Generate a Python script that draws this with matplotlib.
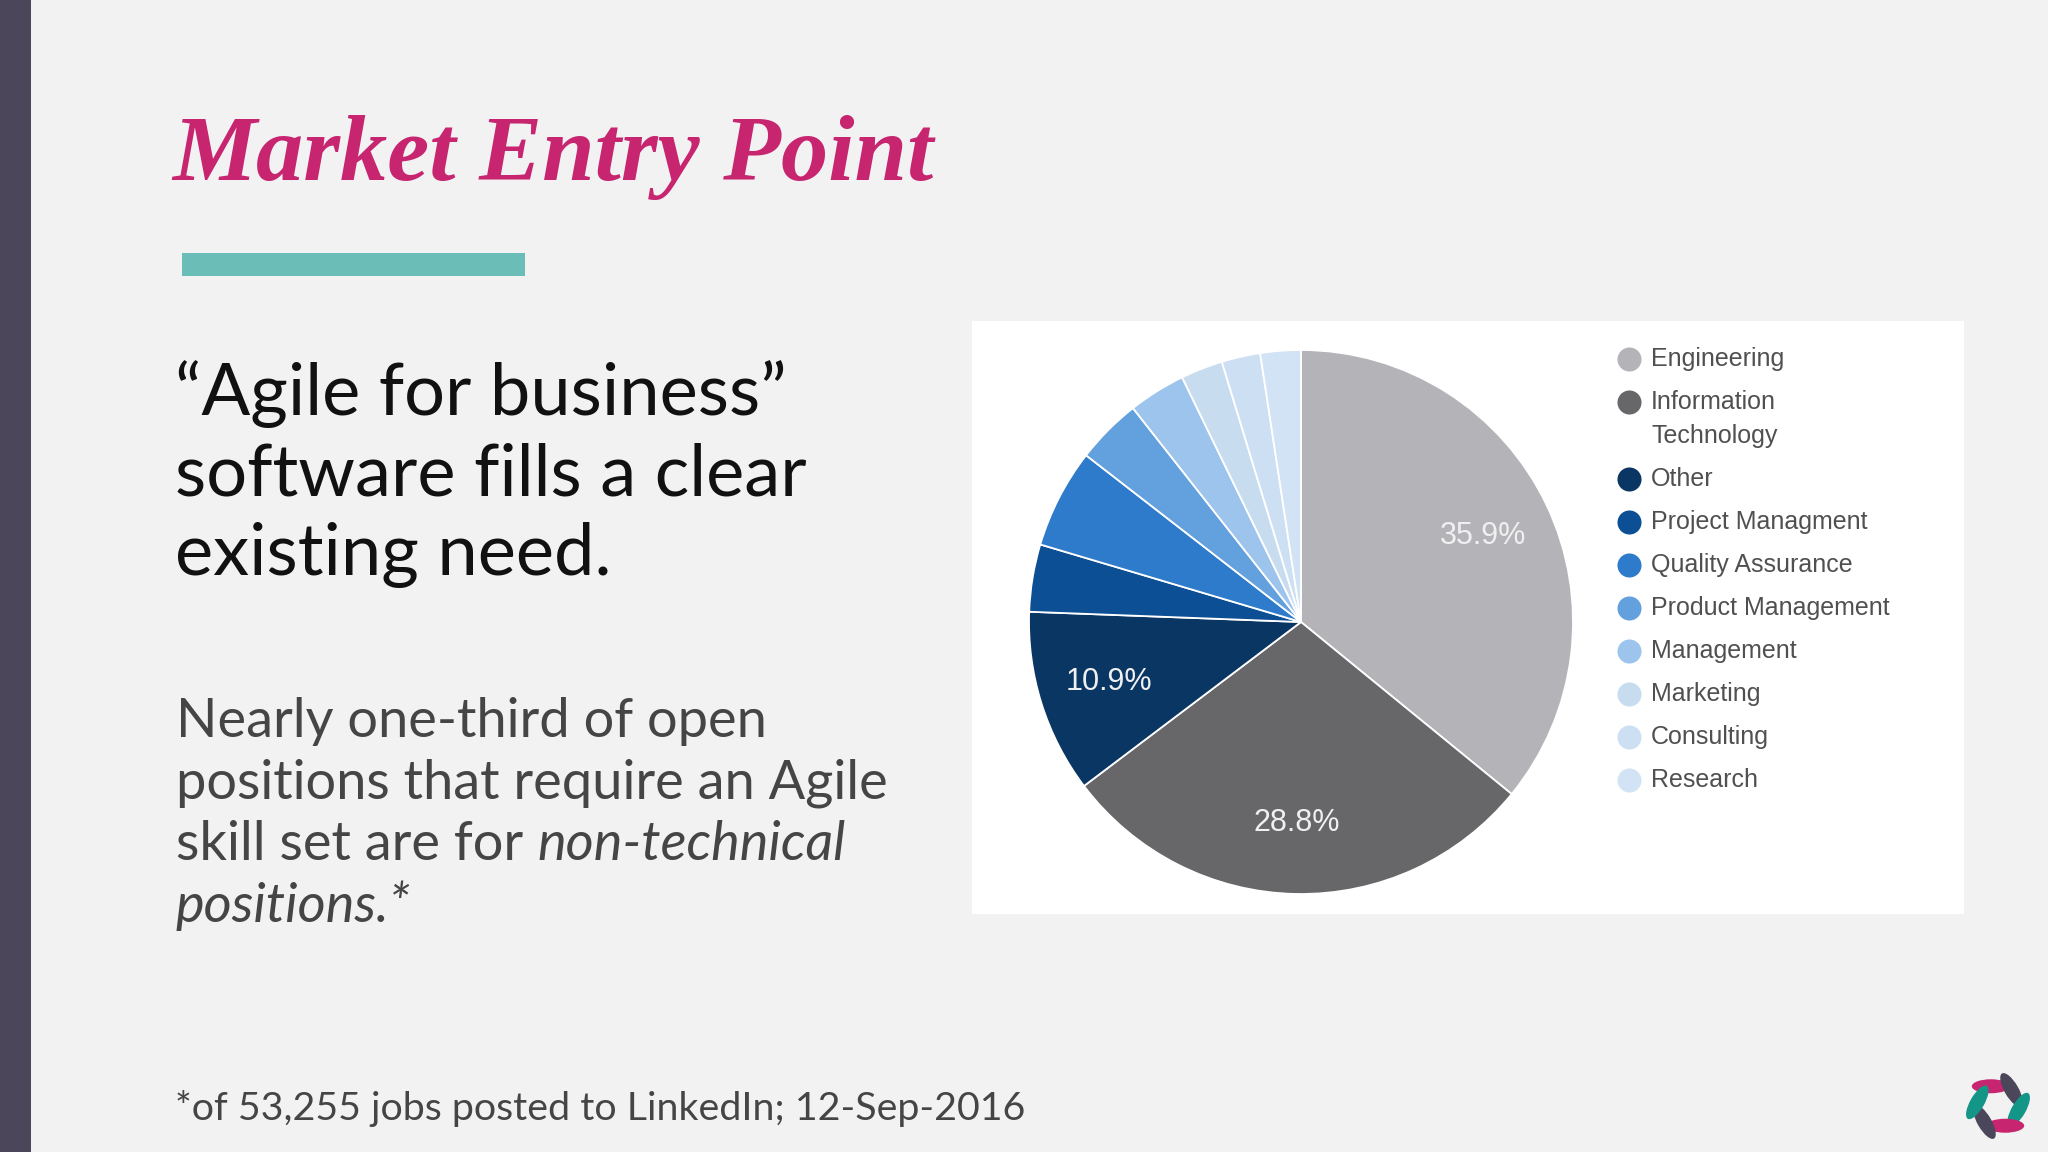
import matplotlib
matplotlib.use("Agg")
import matplotlib.pyplot as plt
from matplotlib.patches import Rectangle, Ellipse
import numpy as np

# ---- data ----
categories = ["Engineering", "Information\nTechnology", "Other", "Project Managment",
              "Quality Assurance", "Product Management", "Management",
              "Marketing", "Consulting", "Research"]
shares = [35.9, 28.8, 10.9, 4.0, 5.9, 3.9, 3.4, 2.5, 2.3, 2.4]
slice_colors = ["#b4b3b8", "#676669", "#0a3664", "#0c4f95", "#2f7bcb",
                "#63a0de", "#9dc4ec", "#c8dcf0", "#cde0f3", "#d1e3f4"]

title = "Market Entry Point"
heading_lines = ["\u201cAgile for business\u201d", "software fills a clear", "existing need."]
body_lines = ["Nearly one-third of open", "positions that require an Agile"]
body_mixed = ("skill set are for ", "non-technical")
body_last = "positions.*"
footnote = "*of 53,255 jobs posted to LinkedIn; 12-Sep-2016"

BG = "#f2f2f3"
PINK = "#c7256f"
SLATE = "#4b4659"
TEAL = "#139688"
SANS = "Lato"

fig = plt.figure(figsize=(20.48, 11.52), dpi=100, facecolor=BG)

# slide canvas in pixel units (y down)
bg = fig.add_axes([0, 0, 1, 1])
bg.set_xlim(0, 2048)
bg.set_ylim(1152, 0)
bg.axis("off")

bg.add_patch(Rectangle((0, 0), 31, 1152, color=SLATE, lw=0))
bg.add_patch(Rectangle((182, 253), 343, 23, color="#6bbdb8", lw=0))
bg.add_patch(Rectangle((972, 321), 992, 593, color="white", lw=0))

bg.text(172, 180, title, fontsize=68, family="Liberation Serif", style="italic",
        weight="bold", color=PINK, va="baseline")

for i, line in enumerate(heading_lines):
    bg.text(175, 415 + 80 * i, line, fontsize=52, family=SANS, color="#111111",
            va="baseline")

for i, line in enumerate(body_lines):
    bg.text(176, 737 + 61 * i, line, fontsize=39, family=SANS, color="#454545",
            va="baseline")
t = bg.text(176, 860, body_mixed[0], fontsize=39, family=SANS, color="#454545",
            va="baseline")
bg.annotate(body_mixed[1], xy=(1, 0), xycoords=t, fontsize=39, family=SANS,
            style="italic", color="#454545", va="bottom", ha="left")
bg.text(176, 922, body_last, fontsize=39, family=SANS, style="italic",
        color="#454545", va="baseline")

bg.text(175, 1120, footnote, fontsize=28.4, family=SANS, color="#454545",
        va="baseline")

# logo: six petals in a pinwheel
logo_cols = [PINK, SLATE, TEAL, PINK, SLATE, TEAL]
for k, c in enumerate(logo_cols):
    a = np.deg2rad(-20 + 60 * k)
    cx, cy = 1998 + 21 * np.sin(a), 1106 - 21 * np.cos(a)
    bg.add_patch(Ellipse((cx, cy), 38, 14, angle=np.rad2deg(a) + 20,
                         color=c, lw=0))

# legend
y = 359
for lab, col in zip(categories, slice_colors):
    bg.scatter([1629], [y], s=300, color=col, zorder=3, lw=0)
    for j, part in enumerate(lab.split("\n")):
        bg.text(1651, y + 34 * j, part, fontsize=18, family="Liberation Sans",
                color="#505050", va="center", zorder=3)
    y += 43 + 34 * lab.count("\n")

# pie
ax = fig.add_axes([1029 / 2048, 258 / 1152, 544 / 2048, 544 / 1152])
wedges, texts, autotexts = ax.pie(
    shares, colors=slice_colors, startangle=90, counterclock=False, radius=1,
    autopct=lambda p: f"{p:.1f}%" if p > 10 else "", pctdistance=0.74,
    wedgeprops=dict(edgecolor="white", linewidth=1.3),
    textprops=dict(fontsize=22, family="Liberation Sans", color="#f0f0f0"))
ax.set_xlim(-1.0, 1.0)
ax.set_ylim(-1.0, 1.0)
ax.axis("off")

plt.savefig("out.png", dpi=100, facecolor=BG)
